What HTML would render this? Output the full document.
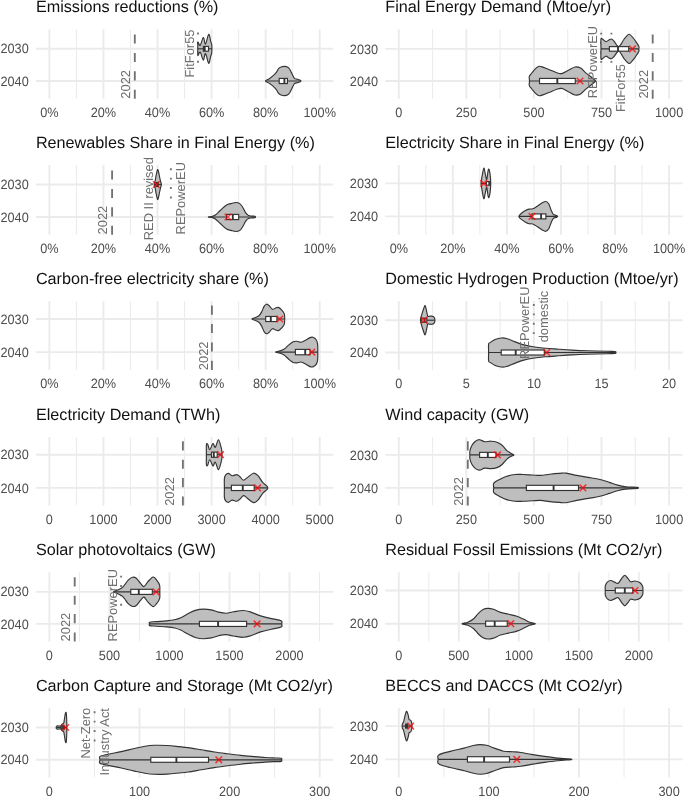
<!DOCTYPE html>
<html><head><meta charset="utf-8"><style>
html,body{margin:0;padding:0;background:#fff;overflow:hidden;}
svg{display:block;text-rendering:geometricPrecision;font-family:"Liberation Sans",sans-serif;will-change:transform;}
</style></head><body>
<svg width="685" height="796" viewBox="0 0 685 796">
<rect width="685" height="796" fill="#fff"/>
<line x1="76.43" y1="29.3" x2="76.43" y2="98.8" stroke="#ebebeb" stroke-width="1"/><line x1="130.49" y1="29.3" x2="130.49" y2="98.8" stroke="#ebebeb" stroke-width="1"/><line x1="184.55" y1="29.3" x2="184.55" y2="98.8" stroke="#ebebeb" stroke-width="1"/><line x1="238.61" y1="29.3" x2="238.61" y2="98.8" stroke="#ebebeb" stroke-width="1"/><line x1="292.67" y1="29.3" x2="292.67" y2="98.8" stroke="#ebebeb" stroke-width="1"/><line x1="49.4" y1="29.3" x2="49.4" y2="98.8" stroke="#ebebeb" stroke-width="1.9"/><line x1="103.46" y1="29.3" x2="103.46" y2="98.8" stroke="#ebebeb" stroke-width="1.9"/><line x1="157.52" y1="29.3" x2="157.52" y2="98.8" stroke="#ebebeb" stroke-width="1.9"/><line x1="211.58" y1="29.3" x2="211.58" y2="98.8" stroke="#ebebeb" stroke-width="1.9"/><line x1="265.64" y1="29.3" x2="265.64" y2="98.8" stroke="#ebebeb" stroke-width="1.9"/><line x1="319.7" y1="29.3" x2="319.7" y2="98.8" stroke="#ebebeb" stroke-width="1.9"/><line x1="35.9" y1="48.8" x2="333.2" y2="48.8" stroke="#ebebeb" stroke-width="1.9"/><line x1="35.9" y1="81" x2="333.2" y2="81" stroke="#ebebeb" stroke-width="1.9"/><text x="35.9" y="12.3" font-size="16.2" fill="#111">Emissions reductions (%)</text><text transform="translate(28.7,53.4) scale(1,1.07)" font-size="12.7" fill="#4d4d4d" text-anchor="end">2030</text><text transform="translate(28.7,85.6) scale(1,1.07)" font-size="12.7" fill="#4d4d4d" text-anchor="end">2040</text><text transform="translate(49.4,117) scale(1,1.07)" font-size="12.7" fill="#4d4d4d" text-anchor="middle">0%</text><text transform="translate(103.46,117) scale(1,1.07)" font-size="12.7" fill="#4d4d4d" text-anchor="middle">20%</text><text transform="translate(157.52,117) scale(1,1.07)" font-size="12.7" fill="#4d4d4d" text-anchor="middle">40%</text><text transform="translate(211.58,117) scale(1,1.07)" font-size="12.7" fill="#4d4d4d" text-anchor="middle">60%</text><text transform="translate(265.64,117) scale(1,1.07)" font-size="12.7" fill="#4d4d4d" text-anchor="middle">80%</text><text transform="translate(319.7,117) scale(1,1.07)" font-size="12.7" fill="#4d4d4d" text-anchor="middle">100%</text><line x1="134.8" y1="98.8" x2="134.8" y2="29.3" stroke="#727272" stroke-width="1.85" stroke-dasharray="9.1 9.3"/><line x1="198" y1="32.6" x2="198" y2="65.3" stroke="#777" stroke-width="1.9" stroke-dasharray="1.9 7.5"/><path d="M197.8,48.8 C197.8,46.67 197.7,43.4 197.8,42.4 C197.9,41.4 197.98,42.3 198.4,42.8 C198.82,43.3 199.48,46.28 200.3,45.4 C201.12,44.52 202.43,37.73 203.3,37.5 C204.17,37.27 204.6,44.53 205.5,44 C206.4,43.47 207.83,34.75 208.7,34.3 C209.57,33.85 210.2,39.6 210.7,41.3 C211.2,43 211.5,43.25 211.7,44.5 C211.9,45.75 211.9,47.37 211.9,48.8 C211.9,50.23 211.9,51.85 211.7,53.1 C211.5,54.35 211.2,54.6 210.7,56.3 C210.2,58 209.57,63.75 208.7,63.3 C207.83,62.85 206.4,54.13 205.5,53.6 C204.6,53.07 204.17,60.33 203.3,60.1 C202.43,59.87 201.12,53.08 200.3,52.2 C199.48,51.32 198.82,54.3 198.4,54.8 C197.98,55.3 197.9,56.2 197.8,55.2 C197.7,54.2 197.8,50.93 197.8,48.8Z" fill="#bebebe" stroke="#333333" stroke-width="1.15" stroke-linejoin="round"/><line x1="197.8" y1="48.8" x2="211.9" y2="48.8" stroke="#333333" stroke-width="1.15"/><rect x="203.4" y="46.4" width="5.1" height="4.8" fill="#fff" stroke="#333333" stroke-width="1.15"/><line x1="204.7" y1="46.4" x2="204.7" y2="51.2" stroke="#333333" stroke-width="1.9"/><path d="M265.4,81 C265.4,80.23 267.92,79.75 269.4,78.7 C270.88,77.65 273.08,75.83 274.3,74.7 C275.52,73.57 275.98,72.92 276.7,71.9 C277.42,70.88 277.88,69.42 278.6,68.6 C279.32,67.78 279.98,67.37 281,67 C282.02,66.63 283.57,66.35 284.7,66.4 C285.83,66.45 286.93,66.78 287.8,67.3 C288.67,67.82 289.2,68.42 289.9,69.5 C290.6,70.58 291.23,72.32 292,73.8 C292.77,75.28 293.57,77.48 294.5,78.4 C295.43,79.32 296.63,79 297.6,79.3 C298.57,79.6 299.75,79.92 300.3,80.2 C300.85,80.48 300.9,80.73 300.9,81 C300.9,81.27 300.85,81.52 300.3,81.8 C299.75,82.08 298.57,82.4 297.6,82.7 C296.63,83 295.43,82.68 294.5,83.6 C293.57,84.52 292.77,86.72 292,88.2 C291.23,89.68 290.6,91.42 289.9,92.5 C289.2,93.58 288.67,94.18 287.8,94.7 C286.93,95.22 285.83,95.55 284.7,95.6 C283.57,95.65 282.02,95.37 281,95 C279.98,94.63 279.32,94.22 278.6,93.4 C277.88,92.58 277.42,91.12 276.7,90.1 C275.98,89.08 275.52,88.43 274.3,87.3 C273.08,86.17 270.88,84.35 269.4,83.3 C267.92,82.25 265.4,81.77 265.4,81Z" fill="#bebebe" stroke="#333333" stroke-width="1.15" stroke-linejoin="round"/><line x1="265.4" y1="81" x2="300.9" y2="81" stroke="#333333" stroke-width="1.15"/><rect x="279.2" y="78.4" width="8.2" height="5.2" fill="#fff" stroke="#333333" stroke-width="1.15"/><line x1="284.4" y1="78.4" x2="284.4" y2="83.6" stroke="#333333" stroke-width="1.9"/><text transform="translate(130.4,98.7) rotate(-90)" font-size="12.9" fill="#6e6e6e">2022</text><text transform="translate(194,77.5) rotate(-90)" font-size="12.9" fill="#6e6e6e">FitFor55</text>
<line x1="432.59" y1="29.3" x2="432.59" y2="98.8" stroke="#ebebeb" stroke-width="1"/><line x1="500.16" y1="29.3" x2="500.16" y2="98.8" stroke="#ebebeb" stroke-width="1"/><line x1="567.74" y1="29.3" x2="567.74" y2="98.8" stroke="#ebebeb" stroke-width="1"/><line x1="635.31" y1="29.3" x2="635.31" y2="98.8" stroke="#ebebeb" stroke-width="1"/><line x1="398.8" y1="29.3" x2="398.8" y2="98.8" stroke="#ebebeb" stroke-width="1.9"/><line x1="466.37" y1="29.3" x2="466.37" y2="98.8" stroke="#ebebeb" stroke-width="1.9"/><line x1="533.95" y1="29.3" x2="533.95" y2="98.8" stroke="#ebebeb" stroke-width="1.9"/><line x1="601.52" y1="29.3" x2="601.52" y2="98.8" stroke="#ebebeb" stroke-width="1.9"/><line x1="669.1" y1="29.3" x2="669.1" y2="98.8" stroke="#ebebeb" stroke-width="1.9"/><line x1="385.3" y1="48.9" x2="682.6" y2="48.9" stroke="#ebebeb" stroke-width="1.9"/><line x1="385.3" y1="81" x2="682.6" y2="81" stroke="#ebebeb" stroke-width="1.9"/><text x="385.3" y="12.3" font-size="16.2" fill="#111">Final Energy Demand (Mtoe/yr)</text><text transform="translate(378.1,53.5) scale(1,1.07)" font-size="12.7" fill="#4d4d4d" text-anchor="end">2030</text><text transform="translate(378.1,85.6) scale(1,1.07)" font-size="12.7" fill="#4d4d4d" text-anchor="end">2040</text><text transform="translate(398.8,117) scale(1,1.07)" font-size="12.7" fill="#4d4d4d" text-anchor="middle">0</text><text transform="translate(466.37,117) scale(1,1.07)" font-size="12.7" fill="#4d4d4d" text-anchor="middle">250</text><text transform="translate(533.95,117) scale(1,1.07)" font-size="12.7" fill="#4d4d4d" text-anchor="middle">500</text><text transform="translate(601.52,117) scale(1,1.07)" font-size="12.7" fill="#4d4d4d" text-anchor="middle">750</text><text transform="translate(669.1,117) scale(1,1.07)" font-size="12.7" fill="#4d4d4d" text-anchor="middle">1000</text><g transform="translate(349.4,0)"><line x1="303.3" y1="98.8" x2="303.3" y2="29.3" stroke="#727272" stroke-width="1.85" stroke-dasharray="9.1 9.3"/><line x1="251.8" y1="32.7" x2="251.8" y2="65.4" stroke="#777" stroke-width="1.9" stroke-dasharray="1.9 7.5"/><line x1="262" y1="32.7" x2="262" y2="65.4" stroke="#777" stroke-width="1.9" stroke-dasharray="1.9 7.5"/><path d="M251.6,48.9 C251.6,45.6 251.27,40.55 251.6,39 C251.93,37.45 252.77,39.17 253.6,39.6 C254.43,40.03 255.6,41.55 256.6,41.6 C257.6,41.65 258.7,40.33 259.6,39.9 C260.5,39.47 261.17,38.8 262,39 C262.83,39.2 263.68,40.05 264.6,41.1 C265.52,42.15 266.65,44.4 267.5,45.3 C268.35,46.2 268.93,46.82 269.7,46.5 C270.47,46.18 271.25,44.65 272.1,43.4 C272.95,42.15 273.57,40.52 274.8,39 C276.03,37.48 278.2,34.68 279.5,34.3 C280.8,33.92 281.57,35.67 282.6,36.7 C283.63,37.73 284.57,38.92 285.7,40.5 C286.83,42.08 288.78,44.8 289.4,46.2 C290.02,47.6 289.4,48 289.4,48.9 C289.4,49.8 290.02,50.2 289.4,51.6 C288.78,53 286.83,55.72 285.7,57.3 C284.57,58.88 283.63,60.07 282.6,61.1 C281.57,62.13 280.8,63.88 279.5,63.5 C278.2,63.12 276.03,60.32 274.8,58.8 C273.57,57.28 272.95,55.65 272.1,54.4 C271.25,53.15 270.47,51.62 269.7,51.3 C268.93,50.98 268.35,51.6 267.5,52.5 C266.65,53.4 265.52,55.65 264.6,56.7 C263.68,57.75 262.83,58.6 262,58.8 C261.17,59 260.5,58.33 259.6,57.9 C258.7,57.47 257.6,56.15 256.6,56.2 C255.6,56.25 254.43,57.77 253.6,58.2 C252.77,58.63 251.93,60.35 251.6,58.8 C251.27,57.25 251.6,52.2 251.6,48.9Z" fill="#bebebe" stroke="#333333" stroke-width="1.15" stroke-linejoin="round"/><line x1="251.6" y1="48.9" x2="289.4" y2="48.9" stroke="#333333" stroke-width="1.15"/><rect x="260" y="46.6" width="19.3" height="4.6" fill="#fff" stroke="#333333" stroke-width="1.15"/><line x1="268.6" y1="46.6" x2="268.6" y2="51.2" stroke="#333333" stroke-width="1.9"/><path d="M279.7,45.6L286.3,52.2M279.7,52.2L286.3,45.6" stroke="#ff0000" stroke-opacity="0.72" stroke-width="1.6" fill="none"/><path d="M180.1,81 C180.1,79.43 179.52,77.63 179.9,76.3 C180.28,74.97 181.43,74.2 182.4,73 C183.37,71.8 184.5,70.22 185.7,69.1 C186.9,67.98 188.22,66.58 189.6,66.3 C190.98,66.02 192.25,66.83 194,67.4 C195.75,67.97 197.97,68.85 200.1,69.7 C202.23,70.55 204.77,71.85 206.8,72.5 C208.83,73.15 210.27,73.97 212.3,73.6 C214.33,73.23 216.78,71.4 219,70.3 C221.22,69.2 223.57,67.37 225.6,67 C227.63,66.63 229.35,67.08 231.2,68.1 C233.05,69.12 234.85,71.53 236.7,73.1 C238.55,74.67 240.82,76.32 242.3,77.5 C243.78,78.68 244.95,79.62 245.6,80.2 C246.25,80.78 246.2,80.73 246.2,81 C246.2,81.27 246.25,81.22 245.6,81.8 C244.95,82.38 243.78,83.32 242.3,84.5 C240.82,85.68 238.55,87.33 236.7,88.9 C234.85,90.47 233.05,92.88 231.2,93.9 C229.35,94.92 227.63,95.37 225.6,95 C223.57,94.63 221.22,92.8 219,91.7 C216.78,90.6 214.33,88.77 212.3,88.4 C210.27,88.03 208.83,88.85 206.8,89.5 C204.77,90.15 202.23,91.45 200.1,92.3 C197.97,93.15 195.75,94.03 194,94.6 C192.25,95.17 190.98,95.98 189.6,95.7 C188.22,95.42 186.9,94.02 185.7,92.9 C184.5,91.78 183.37,90.2 182.4,89 C181.43,87.8 180.28,87.03 179.9,85.7 C179.52,84.37 180.1,82.57 180.1,81Z" fill="#bebebe" stroke="#333333" stroke-width="1.15" stroke-linejoin="round"/><line x1="180.1" y1="81" x2="246.2" y2="81" stroke="#333333" stroke-width="1.15"/><rect x="190.1" y="78.4" width="35.8" height="5.2" fill="#fff" stroke="#333333" stroke-width="1.15"/><line x1="207.9" y1="78.4" x2="207.9" y2="83.6" stroke="#333333" stroke-width="1.9"/><path d="M227.3,77.7L233.9,84.3M227.3,84.3L233.9,77.7" stroke="#ff0000" stroke-opacity="0.72" stroke-width="1.6" fill="none"/><text transform="translate(298.7,98.6) rotate(-90)" font-size="12.9" fill="#6e6e6e">2022</text><text transform="translate(247.4,98.2) rotate(-90)" font-size="12.9" fill="#6e6e6e">REPowerEU</text><text transform="translate(275.4,112) rotate(-90)" font-size="12.9" fill="#6e6e6e">FitFor55</text></g>
<line x1="76.43" y1="164.9" x2="76.43" y2="234.8" stroke="#ebebeb" stroke-width="1"/><line x1="130.49" y1="164.9" x2="130.49" y2="234.8" stroke="#ebebeb" stroke-width="1"/><line x1="184.55" y1="164.9" x2="184.55" y2="234.8" stroke="#ebebeb" stroke-width="1"/><line x1="238.61" y1="164.9" x2="238.61" y2="234.8" stroke="#ebebeb" stroke-width="1"/><line x1="292.67" y1="164.9" x2="292.67" y2="234.8" stroke="#ebebeb" stroke-width="1"/><line x1="49.4" y1="164.9" x2="49.4" y2="234.8" stroke="#ebebeb" stroke-width="1.9"/><line x1="103.46" y1="164.9" x2="103.46" y2="234.8" stroke="#ebebeb" stroke-width="1.9"/><line x1="157.52" y1="164.9" x2="157.52" y2="234.8" stroke="#ebebeb" stroke-width="1.9"/><line x1="211.58" y1="164.9" x2="211.58" y2="234.8" stroke="#ebebeb" stroke-width="1.9"/><line x1="265.64" y1="164.9" x2="265.64" y2="234.8" stroke="#ebebeb" stroke-width="1.9"/><line x1="319.7" y1="164.9" x2="319.7" y2="234.8" stroke="#ebebeb" stroke-width="1.9"/><line x1="35.9" y1="184.5" x2="333.2" y2="184.5" stroke="#ebebeb" stroke-width="1.9"/><line x1="35.9" y1="217" x2="333.2" y2="217" stroke="#ebebeb" stroke-width="1.9"/><text x="35.9" y="147.9" font-size="16.2" fill="#111">Renewables Share in Final Energy (%)</text><text transform="translate(28.7,189.1) scale(1,1.07)" font-size="12.7" fill="#4d4d4d" text-anchor="end">2030</text><text transform="translate(28.7,221.6) scale(1,1.07)" font-size="12.7" fill="#4d4d4d" text-anchor="end">2040</text><text transform="translate(49.4,253) scale(1,1.07)" font-size="12.7" fill="#4d4d4d" text-anchor="middle">0%</text><text transform="translate(103.46,253) scale(1,1.07)" font-size="12.7" fill="#4d4d4d" text-anchor="middle">20%</text><text transform="translate(157.52,253) scale(1,1.07)" font-size="12.7" fill="#4d4d4d" text-anchor="middle">40%</text><text transform="translate(211.58,253) scale(1,1.07)" font-size="12.7" fill="#4d4d4d" text-anchor="middle">60%</text><text transform="translate(265.64,253) scale(1,1.07)" font-size="12.7" fill="#4d4d4d" text-anchor="middle">80%</text><text transform="translate(319.7,253) scale(1,1.07)" font-size="12.7" fill="#4d4d4d" text-anchor="middle">100%</text><line x1="112.1" y1="234.8" x2="112.1" y2="164.9" stroke="#727272" stroke-width="1.85" stroke-dasharray="9.1 9.3"/><line x1="170.9" y1="168.3" x2="170.9" y2="201" stroke="#777" stroke-width="1.9" stroke-dasharray="1.9 7.5"/><path d="M154.2,184.5 C154.2,183.17 154.85,182.17 155.2,180.5 C155.55,178.83 155.9,176.33 156.3,174.5 C156.7,172.67 157.2,169.83 157.6,169.5 C158,169.17 158.35,171.17 158.7,172.5 C159.05,173.83 159.38,176 159.7,177.5 C160.02,179 160.32,180.33 160.6,181.5 C160.88,182.67 161.4,183.5 161.4,184.5 C161.4,185.5 160.88,186.33 160.6,187.5 C160.32,188.67 160.02,190 159.7,191.5 C159.38,193 159.05,195.17 158.7,196.5 C158.35,197.83 158,199.83 157.6,199.5 C157.2,199.17 156.7,196.33 156.3,194.5 C155.9,192.67 155.55,190.17 155.2,188.5 C154.85,186.83 154.2,185.83 154.2,184.5Z" fill="#bebebe" stroke="#333333" stroke-width="1.15" stroke-linejoin="round"/><line x1="154.2" y1="184.5" x2="161.4" y2="184.5" stroke="#333333" stroke-width="1.15"/><rect x="155.9" y="182.5" width="2.4" height="4" fill="#fff" stroke="#333333" stroke-width="1.15"/><line x1="157.2" y1="182.5" x2="157.2" y2="186.5" stroke="#333333" stroke-width="1.9"/><path d="M153,181.2L159.6,187.8M153,187.8L159.6,181.2" stroke="#ff0000" stroke-opacity="0.72" stroke-width="1.6" fill="none"/><path d="M208.3,217 C208.3,216.83 210.63,216.83 211.8,216.5 C212.97,216.17 213.85,216.05 215.3,215 C216.75,213.95 218.62,211.88 220.5,210.2 C222.38,208.52 224.85,206 226.6,204.9 C228.35,203.8 229.47,204 231,203.6 C232.53,203.2 234.33,202.5 235.8,202.5 C237.27,202.5 238.63,202.77 239.8,203.6 C240.97,204.43 241.78,205.9 242.8,207.5 C243.82,209.1 244.95,211.85 245.9,213.2 C246.85,214.55 247.48,215.12 248.5,215.6 C249.52,216.08 250.92,215.98 252,216.1 C253.08,216.22 254.42,216.15 255,216.3 C255.58,216.45 255.5,216.77 255.5,217 C255.5,217.23 255.58,217.55 255,217.7 C254.42,217.85 253.08,217.78 252,217.9 C250.92,218.02 249.52,217.92 248.5,218.4 C247.48,218.88 246.85,219.45 245.9,220.8 C244.95,222.15 243.82,224.9 242.8,226.5 C241.78,228.1 240.97,229.57 239.8,230.4 C238.63,231.23 237.27,231.5 235.8,231.5 C234.33,231.5 232.53,230.8 231,230.4 C229.47,230 228.35,230.2 226.6,229.1 C224.85,228 222.38,225.48 220.5,223.8 C218.62,222.12 216.75,220.05 215.3,219 C213.85,217.95 212.97,217.83 211.8,217.5 C210.63,217.17 208.3,217.17 208.3,217Z" fill="#bebebe" stroke="#333333" stroke-width="1.15" stroke-linejoin="round"/><line x1="208.3" y1="217" x2="255.5" y2="217" stroke="#333333" stroke-width="1.15"/><rect x="226.6" y="214.4" width="12.1" height="5.2" fill="#fff" stroke="#333333" stroke-width="1.15"/><line x1="232.8" y1="214.4" x2="232.8" y2="219.6" stroke="#333333" stroke-width="1.9"/><path d="M224.7,213.7L231.3,220.3M224.7,220.3L231.3,213.7" stroke="#ff0000" stroke-opacity="0.72" stroke-width="1.6" fill="none"/><text transform="translate(107.2,234.4) rotate(-90)" font-size="12.9" fill="#6e6e6e">2022</text><text transform="translate(153.2,240.2) rotate(-90)" font-size="12.9" fill="#6e6e6e">RED II revised</text><text transform="translate(184.6,234.4) rotate(-90)" font-size="12.9" fill="#6e6e6e">REPowerEU</text>
<line x1="425.83" y1="164.9" x2="425.83" y2="234.8" stroke="#ebebeb" stroke-width="1"/><line x1="479.89" y1="164.9" x2="479.89" y2="234.8" stroke="#ebebeb" stroke-width="1"/><line x1="533.95" y1="164.9" x2="533.95" y2="234.8" stroke="#ebebeb" stroke-width="1"/><line x1="588.01" y1="164.9" x2="588.01" y2="234.8" stroke="#ebebeb" stroke-width="1"/><line x1="642.07" y1="164.9" x2="642.07" y2="234.8" stroke="#ebebeb" stroke-width="1"/><line x1="398.8" y1="164.9" x2="398.8" y2="234.8" stroke="#ebebeb" stroke-width="1.9"/><line x1="452.86" y1="164.9" x2="452.86" y2="234.8" stroke="#ebebeb" stroke-width="1.9"/><line x1="506.92" y1="164.9" x2="506.92" y2="234.8" stroke="#ebebeb" stroke-width="1.9"/><line x1="560.98" y1="164.9" x2="560.98" y2="234.8" stroke="#ebebeb" stroke-width="1.9"/><line x1="615.04" y1="164.9" x2="615.04" y2="234.8" stroke="#ebebeb" stroke-width="1.9"/><line x1="669.1" y1="164.9" x2="669.1" y2="234.8" stroke="#ebebeb" stroke-width="1.9"/><line x1="385.3" y1="183.4" x2="682.6" y2="183.4" stroke="#ebebeb" stroke-width="1.9"/><line x1="385.3" y1="216.4" x2="682.6" y2="216.4" stroke="#ebebeb" stroke-width="1.9"/><text x="385.3" y="147.9" font-size="16.2" fill="#111">Electricity Share in Final Energy (%)</text><text transform="translate(378.1,188) scale(1,1.07)" font-size="12.7" fill="#4d4d4d" text-anchor="end">2030</text><text transform="translate(378.1,221) scale(1,1.07)" font-size="12.7" fill="#4d4d4d" text-anchor="end">2040</text><text transform="translate(398.8,253) scale(1,1.07)" font-size="12.7" fill="#4d4d4d" text-anchor="middle">0%</text><text transform="translate(452.86,253) scale(1,1.07)" font-size="12.7" fill="#4d4d4d" text-anchor="middle">20%</text><text transform="translate(506.92,253) scale(1,1.07)" font-size="12.7" fill="#4d4d4d" text-anchor="middle">40%</text><text transform="translate(560.98,253) scale(1,1.07)" font-size="12.7" fill="#4d4d4d" text-anchor="middle">60%</text><text transform="translate(615.04,253) scale(1,1.07)" font-size="12.7" fill="#4d4d4d" text-anchor="middle">80%</text><text transform="translate(669.1,253) scale(1,1.07)" font-size="12.7" fill="#4d4d4d" text-anchor="middle">100%</text><g transform="translate(349.4,0)"><path d="M131.6,183.4 C131.6,182.4 131.77,181.9 132,180.4 C132.23,178.9 132.6,176.45 133,174.4 C133.4,172.35 133.97,168.43 134.4,168.1 C134.83,167.77 135.18,170.6 135.6,172.4 C136.02,174.2 136.57,177.9 136.9,178.9 C137.23,179.9 137.32,179.65 137.6,178.4 C137.88,177.15 138.3,172.95 138.6,171.4 C138.9,169.85 139.1,168.93 139.4,169.1 C139.7,169.27 140.12,170.85 140.4,172.4 C140.68,173.95 140.95,176.57 141.1,178.4 C141.25,180.23 141.3,181.73 141.3,183.4 C141.3,185.07 141.25,186.57 141.1,188.4 C140.95,190.23 140.68,192.85 140.4,194.4 C140.12,195.95 139.7,197.53 139.4,197.7 C139.1,197.87 138.9,196.95 138.6,195.4 C138.3,193.85 137.88,189.65 137.6,188.4 C137.32,187.15 137.23,186.9 136.9,187.9 C136.57,188.9 136.02,192.6 135.6,194.4 C135.18,196.2 134.83,199.03 134.4,198.7 C133.97,198.37 133.4,194.45 133,192.4 C132.6,190.35 132.23,187.9 132,186.4 C131.77,184.9 131.6,184.4 131.6,183.4Z" fill="#bebebe" stroke="#333333" stroke-width="1.15" stroke-linejoin="round"/><line x1="131.6" y1="183.4" x2="141.3" y2="183.4" stroke="#333333" stroke-width="1.15"/><rect x="137" y="181.6" width="3.8" height="3.6" fill="#fff" stroke="#333333" stroke-width="1.15"/><line x1="139.9" y1="181.6" x2="139.9" y2="185.2" stroke="#333333" stroke-width="1.9"/><path d="M131.1,180.1L137.7,186.7M131.1,186.7L137.7,180.1" stroke="#ff0000" stroke-opacity="0.72" stroke-width="1.6" fill="none"/><path d="M169.5,216.4 C169.5,215.67 169.9,215.17 171,214.2 C172.1,213.23 174.65,211.45 176.1,210.6 C177.55,209.75 178.48,209.4 179.7,209.1 C180.92,208.8 182.05,209.28 183.4,208.8 C184.75,208.32 186.35,207.12 187.8,206.2 C189.25,205.28 190.65,204.08 192.1,203.3 C193.55,202.52 195.28,201.38 196.5,201.5 C197.72,201.62 198.55,202.62 199.4,204 C200.25,205.38 200.87,208.1 201.6,209.8 C202.33,211.5 202.95,213.27 203.8,214.2 C204.65,215.13 205.97,215.03 206.7,215.4 C207.43,215.77 208.2,216.07 208.2,216.4 C208.2,216.73 207.43,217.03 206.7,217.4 C205.97,217.77 204.65,217.67 203.8,218.6 C202.95,219.53 202.33,221.3 201.6,223 C200.87,224.7 200.25,227.42 199.4,228.8 C198.55,230.18 197.72,231.18 196.5,231.3 C195.28,231.42 193.55,230.28 192.1,229.5 C190.65,228.72 189.25,227.52 187.8,226.6 C186.35,225.68 184.75,224.48 183.4,224 C182.05,223.52 180.92,224 179.7,223.7 C178.48,223.4 177.55,223.05 176.1,222.2 C174.65,221.35 172.1,219.57 171,218.6 C169.9,217.63 169.5,217.13 169.5,216.4Z" fill="#bebebe" stroke="#333333" stroke-width="1.15" stroke-linejoin="round"/><line x1="169.5" y1="216.4" x2="208.2" y2="216.4" stroke="#333333" stroke-width="1.15"/><rect x="182.6" y="213.9" width="13.9" height="5" fill="#fff" stroke="#333333" stroke-width="1.15"/><line x1="191.7" y1="213.9" x2="191.7" y2="218.9" stroke="#333333" stroke-width="1.9"/><path d="M179.3,213.1L185.9,219.7M179.3,219.7L185.9,213.1" stroke="#ff0000" stroke-opacity="0.72" stroke-width="1.6" fill="none"/></g>
<line x1="76.43" y1="301.1" x2="76.43" y2="369.9" stroke="#ebebeb" stroke-width="1"/><line x1="130.49" y1="301.1" x2="130.49" y2="369.9" stroke="#ebebeb" stroke-width="1"/><line x1="184.55" y1="301.1" x2="184.55" y2="369.9" stroke="#ebebeb" stroke-width="1"/><line x1="238.61" y1="301.1" x2="238.61" y2="369.9" stroke="#ebebeb" stroke-width="1"/><line x1="292.67" y1="301.1" x2="292.67" y2="369.9" stroke="#ebebeb" stroke-width="1"/><line x1="49.4" y1="301.1" x2="49.4" y2="369.9" stroke="#ebebeb" stroke-width="1.9"/><line x1="103.46" y1="301.1" x2="103.46" y2="369.9" stroke="#ebebeb" stroke-width="1.9"/><line x1="157.52" y1="301.1" x2="157.52" y2="369.9" stroke="#ebebeb" stroke-width="1.9"/><line x1="211.58" y1="301.1" x2="211.58" y2="369.9" stroke="#ebebeb" stroke-width="1.9"/><line x1="265.64" y1="301.1" x2="265.64" y2="369.9" stroke="#ebebeb" stroke-width="1.9"/><line x1="319.7" y1="301.1" x2="319.7" y2="369.9" stroke="#ebebeb" stroke-width="1.9"/><line x1="35.9" y1="319" x2="333.2" y2="319" stroke="#ebebeb" stroke-width="1.9"/><line x1="35.9" y1="352.1" x2="333.2" y2="352.1" stroke="#ebebeb" stroke-width="1.9"/><text x="35.9" y="284.1" font-size="16.2" fill="#111">Carbon-free electricity share (%)</text><text transform="translate(28.7,323.6) scale(1,1.07)" font-size="12.7" fill="#4d4d4d" text-anchor="end">2030</text><text transform="translate(28.7,356.7) scale(1,1.07)" font-size="12.7" fill="#4d4d4d" text-anchor="end">2040</text><text transform="translate(49.4,388.1) scale(1,1.07)" font-size="12.7" fill="#4d4d4d" text-anchor="middle">0%</text><text transform="translate(103.46,388.1) scale(1,1.07)" font-size="12.7" fill="#4d4d4d" text-anchor="middle">20%</text><text transform="translate(157.52,388.1) scale(1,1.07)" font-size="12.7" fill="#4d4d4d" text-anchor="middle">40%</text><text transform="translate(211.58,388.1) scale(1,1.07)" font-size="12.7" fill="#4d4d4d" text-anchor="middle">60%</text><text transform="translate(265.64,388.1) scale(1,1.07)" font-size="12.7" fill="#4d4d4d" text-anchor="middle">80%</text><text transform="translate(319.7,388.1) scale(1,1.07)" font-size="12.7" fill="#4d4d4d" text-anchor="middle">100%</text><line x1="211.9" y1="369.9" x2="211.9" y2="301.1" stroke="#727272" stroke-width="1.85" stroke-dasharray="9.1 9.3"/><path d="M251.9,319 C251.9,318.47 254.48,317.98 255.7,317.4 C256.92,316.82 258.18,316.47 259.2,315.5 C260.22,314.53 260.98,313.12 261.8,311.6 C262.62,310.08 263.3,307.63 264.1,306.4 C264.9,305.17 265.75,304.3 266.6,304.2 C267.45,304.1 268.23,304.95 269.2,305.8 C270.17,306.65 271.33,308.93 272.4,309.3 C273.47,309.67 274.58,308.32 275.6,308 C276.62,307.68 277.43,307.02 278.5,307.4 C279.57,307.78 281.03,309.22 282,310.3 C282.97,311.38 283.85,312.45 284.3,313.9 C284.75,315.35 284.7,317.3 284.7,319 C284.7,320.7 284.75,322.65 284.3,324.1 C283.85,325.55 282.97,326.62 282,327.7 C281.03,328.78 279.57,330.22 278.5,330.6 C277.43,330.98 276.62,330.32 275.6,330 C274.58,329.68 273.47,328.33 272.4,328.7 C271.33,329.07 270.17,331.35 269.2,332.2 C268.23,333.05 267.45,333.9 266.6,333.8 C265.75,333.7 264.9,332.83 264.1,331.6 C263.3,330.37 262.62,327.92 261.8,326.4 C260.98,324.88 260.22,323.47 259.2,322.5 C258.18,321.53 256.92,321.18 255.7,320.6 C254.48,320.02 251.9,319.53 251.9,319Z" fill="#bebebe" stroke="#333333" stroke-width="1.15" stroke-linejoin="round"/><line x1="251.9" y1="319" x2="284.7" y2="319" stroke="#333333" stroke-width="1.15"/><rect x="265.7" y="316.45" width="11.2" height="5.1" fill="#fff" stroke="#333333" stroke-width="1.15"/><line x1="270.8" y1="316.45" x2="270.8" y2="321.55" stroke="#333333" stroke-width="1.9"/><path d="M276.5,315.7L283.1,322.3M276.5,322.3L283.1,315.7" stroke="#ff0000" stroke-opacity="0.72" stroke-width="1.6" fill="none"/><path d="M275.6,352.1 C275.6,351.7 278.53,351.42 280,350.9 C281.47,350.38 282.93,350 284.4,349 C285.87,348 287.33,346.12 288.8,344.9 C290.27,343.68 291.87,342.3 293.2,341.7 C294.53,341.1 295.47,341.22 296.8,341.3 C298.13,341.38 299.73,342.38 301.2,342.2 C302.67,342.02 304.13,340.97 305.6,340.2 C307.07,339.43 308.78,338.08 310,337.6 C311.22,337.12 311.87,336.93 312.9,337.3 C313.93,337.67 315.42,338.65 316.2,339.8 C316.98,340.95 317.33,342.15 317.6,344.2 C317.87,346.25 317.8,349.47 317.8,352.1 C317.8,354.73 317.87,357.95 317.6,360 C317.33,362.05 316.98,363.25 316.2,364.4 C315.42,365.55 313.93,366.53 312.9,366.9 C311.87,367.27 311.22,367.08 310,366.6 C308.78,366.12 307.07,364.77 305.6,364 C304.13,363.23 302.67,362.18 301.2,362 C299.73,361.82 298.13,362.82 296.8,362.9 C295.47,362.98 294.53,363.1 293.2,362.5 C291.87,361.9 290.27,360.52 288.8,359.3 C287.33,358.08 285.87,356.2 284.4,355.2 C282.93,354.2 281.47,353.82 280,353.3 C278.53,352.78 275.6,352.5 275.6,352.1Z" fill="#bebebe" stroke="#333333" stroke-width="1.15" stroke-linejoin="round"/><line x1="275.6" y1="352.1" x2="317.8" y2="352.1" stroke="#333333" stroke-width="1.15"/><rect x="295.4" y="349.4" width="14.6" height="5.4" fill="#fff" stroke="#333333" stroke-width="1.15"/><line x1="305.2" y1="349.4" x2="305.2" y2="354.8" stroke="#333333" stroke-width="1.9"/><path d="M308.5,348.8L315.1,355.4M308.5,355.4L315.1,348.8" stroke="#ff0000" stroke-opacity="0.72" stroke-width="1.6" fill="none"/><text transform="translate(207.8,370.2) rotate(-90)" font-size="12.9" fill="#6e6e6e">2022</text>
<line x1="432.59" y1="301.1" x2="432.59" y2="369.9" stroke="#ebebeb" stroke-width="1"/><line x1="500.16" y1="301.1" x2="500.16" y2="369.9" stroke="#ebebeb" stroke-width="1"/><line x1="567.74" y1="301.1" x2="567.74" y2="369.9" stroke="#ebebeb" stroke-width="1"/><line x1="635.31" y1="301.1" x2="635.31" y2="369.9" stroke="#ebebeb" stroke-width="1"/><line x1="398.8" y1="301.1" x2="398.8" y2="369.9" stroke="#ebebeb" stroke-width="1.9"/><line x1="466.37" y1="301.1" x2="466.37" y2="369.9" stroke="#ebebeb" stroke-width="1.9"/><line x1="533.95" y1="301.1" x2="533.95" y2="369.9" stroke="#ebebeb" stroke-width="1.9"/><line x1="601.52" y1="301.1" x2="601.52" y2="369.9" stroke="#ebebeb" stroke-width="1.9"/><line x1="669.1" y1="301.1" x2="669.1" y2="369.9" stroke="#ebebeb" stroke-width="1.9"/><line x1="385.3" y1="320.2" x2="682.6" y2="320.2" stroke="#ebebeb" stroke-width="1.9"/><line x1="385.3" y1="352.5" x2="682.6" y2="352.5" stroke="#ebebeb" stroke-width="1.9"/><text x="385.3" y="284.1" font-size="16.2" fill="#111">Domestic Hydrogen Production (Mtoe/yr)</text><text transform="translate(378.1,324.8) scale(1,1.07)" font-size="12.7" fill="#4d4d4d" text-anchor="end">2030</text><text transform="translate(378.1,357.1) scale(1,1.07)" font-size="12.7" fill="#4d4d4d" text-anchor="end">2040</text><text transform="translate(398.8,388.1) scale(1,1.07)" font-size="12.7" fill="#4d4d4d" text-anchor="middle">0</text><text transform="translate(466.37,388.1) scale(1,1.07)" font-size="12.7" fill="#4d4d4d" text-anchor="middle">5</text><text transform="translate(533.95,388.1) scale(1,1.07)" font-size="12.7" fill="#4d4d4d" text-anchor="middle">10</text><text transform="translate(601.52,388.1) scale(1,1.07)" font-size="12.7" fill="#4d4d4d" text-anchor="middle">15</text><text transform="translate(669.1,388.1) scale(1,1.07)" font-size="12.7" fill="#4d4d4d" text-anchor="middle">20</text><g transform="translate(349.4,0)"><line x1="184.4" y1="304" x2="184.4" y2="336.7" stroke="#777" stroke-width="1.9" stroke-dasharray="1.9 7.5"/><path d="M71.1,320.2 C71.1,319.2 71.27,318.53 71.6,317.2 C71.93,315.87 72.6,313.78 73.1,312.2 C73.6,310.62 74.17,308.8 74.6,307.7 C75.03,306.6 75.33,305.35 75.7,305.6 C76.07,305.85 76.45,307.77 76.8,309.2 C77.15,310.63 77.53,313 77.8,314.2 C78.07,315.4 78.02,316.07 78.4,316.4 C78.78,316.73 79.48,316.25 80.1,316.2 C80.72,316.15 81.43,316.02 82.1,316.1 C82.77,316.18 83.58,316.35 84.1,316.7 C84.62,317.05 84.97,317.62 85.2,318.2 C85.43,318.78 85.5,319.53 85.5,320.2 C85.5,320.87 85.43,321.62 85.2,322.2 C84.97,322.78 84.62,323.35 84.1,323.7 C83.58,324.05 82.77,324.22 82.1,324.3 C81.43,324.38 80.72,324.25 80.1,324.2 C79.48,324.15 78.78,323.67 78.4,324 C78.02,324.33 78.07,325 77.8,326.2 C77.53,327.4 77.15,329.77 76.8,331.2 C76.45,332.63 76.07,334.55 75.7,334.8 C75.33,335.05 75.03,333.8 74.6,332.7 C74.17,331.6 73.6,329.78 73.1,328.2 C72.6,326.62 71.93,324.53 71.6,323.2 C71.27,321.87 71.1,321.2 71.1,320.2Z" fill="#bebebe" stroke="#333333" stroke-width="1.15" stroke-linejoin="round"/><line x1="71.1" y1="320.2" x2="85.5" y2="320.2" stroke="#333333" stroke-width="1.15"/><rect x="72.4" y="318.2" width="5" height="4" fill="#fff" stroke="#333333" stroke-width="1.15"/><line x1="75.2" y1="318.2" x2="75.2" y2="322.2" stroke="#333333" stroke-width="1.9"/><path d="M71.3,316.9L77.9,323.5M71.3,323.5L77.9,316.9" stroke="#ff0000" stroke-opacity="0.72" stroke-width="1.6" fill="none"/><path d="M139.2,352.5 C139.2,349.7 138.95,345.75 139.2,344.1 C139.45,342.45 139.6,343.37 140.7,342.6 C141.8,341.83 143.92,340.27 145.8,339.5 C147.68,338.73 150.12,338.17 152,338 C153.88,337.83 154.88,337.9 157.1,338.5 C159.32,339.1 162.58,340.58 165.3,341.6 C168.02,342.62 170.35,343.75 173.4,344.6 C176.45,345.45 179.85,346.1 183.6,346.7 C187.35,347.3 191.63,347.78 195.9,348.2 C200.17,348.62 204.75,348.88 209.2,349.2 C213.65,349.52 217.83,349.83 222.6,350.1 C227.37,350.37 231.87,350.6 237.8,350.8 C243.73,351 253.57,351.18 258.2,351.3 C262.83,351.42 264.23,351.3 265.6,351.5 C266.97,351.7 266.4,352.17 266.4,352.5 C266.4,352.83 266.97,353.3 265.6,353.5 C264.23,353.7 262.83,353.58 258.2,353.7 C253.57,353.82 243.73,354 237.8,354.2 C231.87,354.4 227.37,354.63 222.6,354.9 C217.83,355.17 213.65,355.48 209.2,355.8 C204.75,356.12 200.17,356.38 195.9,356.8 C191.63,357.22 187.35,357.7 183.6,358.3 C179.85,358.9 176.45,359.55 173.4,360.4 C170.35,361.25 168.02,362.38 165.3,363.4 C162.58,364.42 159.32,365.9 157.1,366.5 C154.88,367.1 153.88,367.17 152,367 C150.12,366.83 147.68,366.27 145.8,365.5 C143.92,364.73 141.8,363.17 140.7,362.4 C139.6,361.63 139.45,362.55 139.2,360.9 C138.95,359.25 139.2,355.3 139.2,352.5Z" fill="#bebebe" stroke="#333333" stroke-width="1.15" stroke-linejoin="round"/><line x1="139.2" y1="352.5" x2="266.4" y2="352.5" stroke="#333333" stroke-width="1.15"/><rect x="151.8" y="350" width="43.1" height="5" fill="#fff" stroke="#333333" stroke-width="1.15"/><line x1="166.3" y1="350" x2="166.3" y2="355" stroke="#333333" stroke-width="1.9"/><path d="M194.1,349.2L200.7,355.8M194.1,355.8L200.7,349.2" stroke="#ff0000" stroke-opacity="0.72" stroke-width="1.6" fill="none"/><text transform="translate(179.5,358.9) rotate(-90)" font-size="12.9" fill="#6e6e6e">REPowerEU</text><text transform="translate(198.7,342.3) rotate(-90)" font-size="12.9" fill="#6e6e6e">domestic</text></g>
<line x1="76.43" y1="437" x2="76.43" y2="505.6" stroke="#ebebeb" stroke-width="1"/><line x1="130.49" y1="437" x2="130.49" y2="505.6" stroke="#ebebeb" stroke-width="1"/><line x1="184.55" y1="437" x2="184.55" y2="505.6" stroke="#ebebeb" stroke-width="1"/><line x1="238.61" y1="437" x2="238.61" y2="505.6" stroke="#ebebeb" stroke-width="1"/><line x1="292.67" y1="437" x2="292.67" y2="505.6" stroke="#ebebeb" stroke-width="1"/><line x1="49.4" y1="437" x2="49.4" y2="505.6" stroke="#ebebeb" stroke-width="1.9"/><line x1="103.46" y1="437" x2="103.46" y2="505.6" stroke="#ebebeb" stroke-width="1.9"/><line x1="157.52" y1="437" x2="157.52" y2="505.6" stroke="#ebebeb" stroke-width="1.9"/><line x1="211.58" y1="437" x2="211.58" y2="505.6" stroke="#ebebeb" stroke-width="1.9"/><line x1="265.64" y1="437" x2="265.64" y2="505.6" stroke="#ebebeb" stroke-width="1.9"/><line x1="319.7" y1="437" x2="319.7" y2="505.6" stroke="#ebebeb" stroke-width="1.9"/><line x1="35.9" y1="454.7" x2="333.2" y2="454.7" stroke="#ebebeb" stroke-width="1.9"/><line x1="35.9" y1="487.9" x2="333.2" y2="487.9" stroke="#ebebeb" stroke-width="1.9"/><text x="35.9" y="420" font-size="16.2" fill="#111">Electricity Demand (TWh)</text><text transform="translate(28.7,459.3) scale(1,1.07)" font-size="12.7" fill="#4d4d4d" text-anchor="end">2030</text><text transform="translate(28.7,492.5) scale(1,1.07)" font-size="12.7" fill="#4d4d4d" text-anchor="end">2040</text><text transform="translate(49.4,523.8) scale(1,1.07)" font-size="12.7" fill="#4d4d4d" text-anchor="middle">0</text><text transform="translate(103.46,523.8) scale(1,1.07)" font-size="12.7" fill="#4d4d4d" text-anchor="middle">1000</text><text transform="translate(157.52,523.8) scale(1,1.07)" font-size="12.7" fill="#4d4d4d" text-anchor="middle">2000</text><text transform="translate(211.58,523.8) scale(1,1.07)" font-size="12.7" fill="#4d4d4d" text-anchor="middle">3000</text><text transform="translate(265.64,523.8) scale(1,1.07)" font-size="12.7" fill="#4d4d4d" text-anchor="middle">4000</text><text transform="translate(319.7,523.8) scale(1,1.07)" font-size="12.7" fill="#4d4d4d" text-anchor="middle">5000</text><line x1="182.9" y1="505.6" x2="182.9" y2="437" stroke="#727272" stroke-width="1.85" stroke-dasharray="9.1 9.3"/><path d="M206.4,454.7 C206.4,451.43 206.2,446.68 206.4,444.9 C206.6,443.12 207.03,443.2 207.6,444 C208.17,444.8 208.92,449.78 209.8,449.7 C210.68,449.62 211.98,443.9 212.9,443.5 C213.82,443.1 214.38,447.93 215.3,447.3 C216.22,446.67 217.45,439.78 218.4,439.7 C219.35,439.62 220.42,444.9 221,446.8 C221.58,448.7 221.73,449.78 221.9,451.1 C222.07,452.42 222,453.5 222,454.7 C222,455.9 222.07,456.98 221.9,458.3 C221.73,459.62 221.58,460.7 221,462.6 C220.42,464.5 219.35,469.78 218.4,469.7 C217.45,469.62 216.22,462.73 215.3,462.1 C214.38,461.47 213.82,466.3 212.9,465.9 C211.98,465.5 210.68,459.78 209.8,459.7 C208.92,459.62 208.17,464.6 207.6,465.4 C207.03,466.2 206.6,466.28 206.4,464.5 C206.2,462.72 206.4,457.97 206.4,454.7Z" fill="#bebebe" stroke="#333333" stroke-width="1.15" stroke-linejoin="round"/><line x1="206.4" y1="454.7" x2="222" y2="454.7" stroke="#333333" stroke-width="1.15"/><rect x="211.5" y="452.1" width="5.7" height="5.2" fill="#fff" stroke="#333333" stroke-width="1.15"/><line x1="213.8" y1="452.1" x2="213.8" y2="457.3" stroke="#333333" stroke-width="1.9"/><path d="M217.2,451.4L223.8,458M217.2,458L223.8,451.4" stroke="#ff0000" stroke-opacity="0.72" stroke-width="1.6" fill="none"/><path d="M224.4,487.9 C224.4,484.73 224.18,480.57 224.4,478.4 C224.62,476.23 225.03,475.73 225.7,474.9 C226.37,474.07 227.33,473.27 228.4,473.4 C229.47,473.53 230.72,475.5 232.1,475.7 C233.48,475.9 235.43,474.47 236.7,474.6 C237.97,474.73 238.57,475.57 239.7,476.5 C240.83,477.43 242.23,480.02 243.5,480.2 C244.77,480.38 245.65,478.77 247.3,477.6 C248.95,476.43 251.62,473.52 253.4,473.2 C255.18,472.88 256.48,474.2 258,475.7 C259.52,477.2 260.98,480.42 262.5,482.2 C264.02,483.98 266.23,485.45 267.1,486.4 C267.97,487.35 267.7,487.4 267.7,487.9 C267.7,488.4 267.97,488.45 267.1,489.4 C266.23,490.35 264.02,491.82 262.5,493.6 C260.98,495.38 259.52,498.6 258,500.1 C256.48,501.6 255.18,502.92 253.4,502.6 C251.62,502.28 248.95,499.37 247.3,498.2 C245.65,497.03 244.77,495.42 243.5,495.6 C242.23,495.78 240.83,498.37 239.7,499.3 C238.57,500.23 237.97,501.07 236.7,501.2 C235.43,501.33 233.48,499.9 232.1,500.1 C230.72,500.3 229.47,502.27 228.4,502.4 C227.33,502.53 226.37,501.73 225.7,500.9 C225.03,500.07 224.62,499.57 224.4,497.4 C224.18,495.23 224.4,491.07 224.4,487.9Z" fill="#bebebe" stroke="#333333" stroke-width="1.15" stroke-linejoin="round"/><line x1="224.4" y1="487.9" x2="267.7" y2="487.9" stroke="#333333" stroke-width="1.15"/><rect x="231.4" y="485.25" width="22.8" height="5.3" fill="#fff" stroke="#333333" stroke-width="1.15"/><line x1="242.8" y1="485.25" x2="242.8" y2="490.55" stroke="#333333" stroke-width="1.9"/><path d="M254.3,484.6L260.9,491.2M254.3,491.2L260.9,484.6" stroke="#ff0000" stroke-opacity="0.72" stroke-width="1.6" fill="none"/><text transform="translate(174.1,505.8) rotate(-90)" font-size="12.9" fill="#6e6e6e">2022</text>
<line x1="432.59" y1="437" x2="432.59" y2="505.6" stroke="#ebebeb" stroke-width="1"/><line x1="500.16" y1="437" x2="500.16" y2="505.6" stroke="#ebebeb" stroke-width="1"/><line x1="567.74" y1="437" x2="567.74" y2="505.6" stroke="#ebebeb" stroke-width="1"/><line x1="635.31" y1="437" x2="635.31" y2="505.6" stroke="#ebebeb" stroke-width="1"/><line x1="398.8" y1="437" x2="398.8" y2="505.6" stroke="#ebebeb" stroke-width="1.9"/><line x1="466.37" y1="437" x2="466.37" y2="505.6" stroke="#ebebeb" stroke-width="1.9"/><line x1="533.95" y1="437" x2="533.95" y2="505.6" stroke="#ebebeb" stroke-width="1.9"/><line x1="601.52" y1="437" x2="601.52" y2="505.6" stroke="#ebebeb" stroke-width="1.9"/><line x1="669.1" y1="437" x2="669.1" y2="505.6" stroke="#ebebeb" stroke-width="1.9"/><line x1="385.3" y1="454.9" x2="682.6" y2="454.9" stroke="#ebebeb" stroke-width="1.9"/><line x1="385.3" y1="487.9" x2="682.6" y2="487.9" stroke="#ebebeb" stroke-width="1.9"/><text x="385.3" y="420" font-size="16.2" fill="#111">Wind capacity (GW)</text><text transform="translate(378.1,459.5) scale(1,1.07)" font-size="12.7" fill="#4d4d4d" text-anchor="end">2030</text><text transform="translate(378.1,492.5) scale(1,1.07)" font-size="12.7" fill="#4d4d4d" text-anchor="end">2040</text><text transform="translate(398.8,523.8) scale(1,1.07)" font-size="12.7" fill="#4d4d4d" text-anchor="middle">0</text><text transform="translate(466.37,523.8) scale(1,1.07)" font-size="12.7" fill="#4d4d4d" text-anchor="middle">250</text><text transform="translate(533.95,523.8) scale(1,1.07)" font-size="12.7" fill="#4d4d4d" text-anchor="middle">500</text><text transform="translate(601.52,523.8) scale(1,1.07)" font-size="12.7" fill="#4d4d4d" text-anchor="middle">750</text><text transform="translate(669.1,523.8) scale(1,1.07)" font-size="12.7" fill="#4d4d4d" text-anchor="middle">1000</text><g transform="translate(349.4,0)"><line x1="118.4" y1="505.6" x2="118.4" y2="437" stroke="#727272" stroke-width="1.85" stroke-dasharray="9.1 9.3"/><path d="M120.5,454.9 C120.5,453.6 120.15,452.6 120.5,451 C120.85,449.4 121.67,446.93 122.6,445.3 C123.53,443.67 124.83,442.13 126.1,441.2 C127.37,440.27 128.67,439.62 130.2,439.7 C131.73,439.78 133.42,441.45 135.3,441.7 C137.18,441.95 139.45,441.12 141.5,441.2 C143.55,441.28 145.73,441.52 147.6,442.2 C149.47,442.88 151,443.85 152.7,445.3 C154.4,446.75 156.27,449.53 157.8,450.9 C159.33,452.27 160.78,452.83 161.9,453.5 C163.02,454.17 164.5,454.43 164.5,454.9 C164.5,455.37 163.02,455.63 161.9,456.3 C160.78,456.97 159.33,457.53 157.8,458.9 C156.27,460.27 154.4,463.05 152.7,464.5 C151,465.95 149.47,466.92 147.6,467.6 C145.73,468.28 143.55,468.52 141.5,468.6 C139.45,468.68 137.18,467.85 135.3,468.1 C133.42,468.35 131.73,470.02 130.2,470.1 C128.67,470.18 127.37,469.53 126.1,468.6 C124.83,467.67 123.53,466.13 122.6,464.5 C121.67,462.87 120.85,460.4 120.5,458.8 C120.15,457.2 120.5,456.2 120.5,454.9Z" fill="#bebebe" stroke="#333333" stroke-width="1.15" stroke-linejoin="round"/><line x1="120.5" y1="454.9" x2="164.5" y2="454.9" stroke="#333333" stroke-width="1.15"/><rect x="130.2" y="452.35" width="16.4" height="5.1" fill="#fff" stroke="#333333" stroke-width="1.15"/><line x1="138.4" y1="452.35" x2="138.4" y2="457.45" stroke="#333333" stroke-width="1.9"/><path d="M144.8,451.6L151.4,458.2M144.8,458.2L151.4,451.6" stroke="#ff0000" stroke-opacity="0.72" stroke-width="1.6" fill="none"/><path d="M144.4,487.9 C144.4,486.33 143.42,484.62 144.4,483.2 C145.38,481.78 148.15,480.57 150.3,479.4 C152.45,478.23 154.77,477.02 157.3,476.2 C159.83,475.38 162.78,474.78 165.5,474.5 C168.22,474.22 170.68,474.42 173.6,474.5 C176.52,474.58 180.07,474.85 183,475 C185.93,475.15 188.28,475.53 191.2,475.4 C194.12,475.27 197.4,474.53 200.5,474.2 C203.6,473.87 207.12,473.58 209.8,473.4 C212.48,473.22 213.68,472.77 216.6,473.1 C219.52,473.43 223.57,474.68 227.3,475.4 C231.03,476.12 235.12,476.72 239,477.4 C242.88,478.08 247.1,478.67 250.6,479.5 C254.1,480.33 257.07,481.47 260,482.4 C262.93,483.33 265.48,484.38 268.2,485.1 C270.92,485.82 273,486.32 276.3,486.7 C279.6,487.08 285.98,487.2 288,487.4 C290.02,487.6 288.4,487.73 288.4,487.9 C288.4,488.07 290.02,488.2 288,488.4 C285.98,488.6 279.6,488.72 276.3,489.1 C273,489.48 270.92,489.98 268.2,490.7 C265.48,491.42 262.93,492.47 260,493.4 C257.07,494.33 254.1,495.47 250.6,496.3 C247.1,497.13 242.88,497.72 239,498.4 C235.12,499.08 231.03,499.68 227.3,500.4 C223.57,501.12 219.52,502.37 216.6,502.7 C213.68,503.03 212.48,502.58 209.8,502.4 C207.12,502.22 203.6,501.93 200.5,501.6 C197.4,501.27 194.12,500.53 191.2,500.4 C188.28,500.27 185.93,500.65 183,500.8 C180.07,500.95 176.52,501.22 173.6,501.3 C170.68,501.38 168.22,501.58 165.5,501.3 C162.78,501.02 159.83,500.42 157.3,499.6 C154.77,498.78 152.45,497.57 150.3,496.4 C148.15,495.23 145.38,494.02 144.4,492.6 C143.42,491.18 144.4,489.47 144.4,487.9Z" fill="#bebebe" stroke="#333333" stroke-width="1.15" stroke-linejoin="round"/><line x1="144.4" y1="487.9" x2="288.4" y2="487.9" stroke="#333333" stroke-width="1.15"/><rect x="177" y="485.3" width="52.1" height="5.2" fill="#fff" stroke="#333333" stroke-width="1.15"/><line x1="204.2" y1="485.3" x2="204.2" y2="490.5" stroke="#333333" stroke-width="1.9"/><path d="M230.2,484.6L236.8,491.2M230.2,491.2L236.8,484.6" stroke="#ff0000" stroke-opacity="0.72" stroke-width="1.6" fill="none"/><text transform="translate(113.6,505.8) rotate(-90)" font-size="12.9" fill="#6e6e6e">2022</text></g>
<line x1="79.41" y1="572.3" x2="79.41" y2="641.6" stroke="#ebebeb" stroke-width="1"/><line x1="139.42" y1="572.3" x2="139.42" y2="641.6" stroke="#ebebeb" stroke-width="1"/><line x1="199.43" y1="572.3" x2="199.43" y2="641.6" stroke="#ebebeb" stroke-width="1"/><line x1="259.45" y1="572.3" x2="259.45" y2="641.6" stroke="#ebebeb" stroke-width="1"/><line x1="319.46" y1="572.3" x2="319.46" y2="641.6" stroke="#ebebeb" stroke-width="1"/><line x1="49.4" y1="572.3" x2="49.4" y2="641.6" stroke="#ebebeb" stroke-width="1.9"/><line x1="109.41" y1="572.3" x2="109.41" y2="641.6" stroke="#ebebeb" stroke-width="1.9"/><line x1="169.43" y1="572.3" x2="169.43" y2="641.6" stroke="#ebebeb" stroke-width="1.9"/><line x1="229.44" y1="572.3" x2="229.44" y2="641.6" stroke="#ebebeb" stroke-width="1.9"/><line x1="289.45" y1="572.3" x2="289.45" y2="641.6" stroke="#ebebeb" stroke-width="1.9"/><line x1="35.9" y1="591.85" x2="333.2" y2="591.85" stroke="#ebebeb" stroke-width="1.9"/><line x1="35.9" y1="623.9" x2="333.2" y2="623.9" stroke="#ebebeb" stroke-width="1.9"/><text x="35.9" y="555.3" font-size="16.2" fill="#111">Solar photovoltaics (GW)</text><text transform="translate(28.7,596.45) scale(1,1.07)" font-size="12.7" fill="#4d4d4d" text-anchor="end">2030</text><text transform="translate(28.7,628.5) scale(1,1.07)" font-size="12.7" fill="#4d4d4d" text-anchor="end">2040</text><text transform="translate(49.4,659.8) scale(1,1.07)" font-size="12.7" fill="#4d4d4d" text-anchor="middle">0</text><text transform="translate(109.41,659.8) scale(1,1.07)" font-size="12.7" fill="#4d4d4d" text-anchor="middle">500</text><text transform="translate(169.43,659.8) scale(1,1.07)" font-size="12.7" fill="#4d4d4d" text-anchor="middle">1000</text><text transform="translate(229.44,659.8) scale(1,1.07)" font-size="12.7" fill="#4d4d4d" text-anchor="middle">1500</text><text transform="translate(289.45,659.8) scale(1,1.07)" font-size="12.7" fill="#4d4d4d" text-anchor="middle">2000</text><line x1="74.7" y1="641.6" x2="74.7" y2="572.3" stroke="#727272" stroke-width="1.85" stroke-dasharray="9.1 9.3"/><line x1="121.1" y1="575.65" x2="121.1" y2="608.35" stroke="#777" stroke-width="1.9" stroke-dasharray="1.9 7.5"/><path d="M113.6,591.85 C113.6,591.32 115.95,590.88 117.3,590.25 C118.65,589.62 120.48,588.93 121.7,588.05 C122.92,587.17 123.52,586.28 124.6,584.95 C125.68,583.62 126.87,581.33 128.2,580.05 C129.53,578.77 131.25,577.55 132.6,577.25 C133.95,576.95 134.95,577.18 136.3,578.25 C137.65,579.32 139.42,582.27 140.7,583.65 C141.98,585.03 142.78,586.9 144,586.55 C145.22,586.2 146.48,583.13 148,581.55 C149.52,579.97 151.67,577.3 153.1,577.05 C154.53,576.8 155.52,578.72 156.6,580.05 C157.68,581.38 159.07,583.08 159.6,585.05 C160.13,587.02 159.8,589.58 159.8,591.85 C159.8,594.12 160.13,596.68 159.6,598.65 C159.07,600.62 157.68,602.32 156.6,603.65 C155.52,604.98 154.53,606.9 153.1,606.65 C151.67,606.4 149.52,603.73 148,602.15 C146.48,600.57 145.22,597.5 144,597.15 C142.78,596.8 141.98,598.67 140.7,600.05 C139.42,601.43 137.65,604.38 136.3,605.45 C134.95,606.52 133.95,606.75 132.6,606.45 C131.25,606.15 129.53,604.93 128.2,603.65 C126.87,602.37 125.68,600.08 124.6,598.75 C123.52,597.42 122.92,596.53 121.7,595.65 C120.48,594.77 118.65,594.08 117.3,593.45 C115.95,592.82 113.6,592.38 113.6,591.85Z" fill="#bebebe" stroke="#333333" stroke-width="1.15" stroke-linejoin="round"/><line x1="113.6" y1="591.85" x2="159.8" y2="591.85" stroke="#333333" stroke-width="1.15"/><rect x="130.8" y="589.3" width="21.5" height="5.1" fill="#fff" stroke="#333333" stroke-width="1.15"/><line x1="138.8" y1="589.3" x2="138.8" y2="594.4" stroke="#333333" stroke-width="1.9"/><path d="M152.8,588.55L159.4,595.15M152.8,595.15L159.4,588.55" stroke="#ff0000" stroke-opacity="0.72" stroke-width="1.6" fill="none"/><path d="M149.6,623.9 C149.6,623.33 148.5,622.58 149.6,622.2 C150.7,621.82 153.4,621.82 156.2,621.6 C159,621.38 163.33,621.2 166.4,620.9 C169.47,620.6 172.22,620.32 174.6,619.8 C176.98,619.28 178.32,618.9 180.7,617.8 C183.08,616.7 186.33,614.48 188.9,613.2 C191.47,611.92 193.72,610.78 196.1,610.1 C198.48,609.42 200.65,609.13 203.2,609.1 C205.75,609.07 208.85,609.4 211.4,609.9 C213.95,610.4 216.07,611.55 218.5,612.1 C220.93,612.65 223.48,613.25 226,613.2 C228.52,613.15 230.72,612.25 233.6,611.8 C236.48,611.35 240.42,610.45 243.3,610.5 C246.18,610.55 248.02,611.2 250.9,612.1 C253.78,613 257.18,614.82 260.6,615.9 C264.02,616.98 267.98,617.8 271.4,618.6 C274.82,619.4 279.38,619.82 281.1,620.7 C282.82,621.58 281.7,622.83 281.7,623.9 C281.7,624.97 282.82,626.22 281.1,627.1 C279.38,627.98 274.82,628.4 271.4,629.2 C267.98,630 264.02,630.82 260.6,631.9 C257.18,632.98 253.78,634.8 250.9,635.7 C248.02,636.6 246.18,637.25 243.3,637.3 C240.42,637.35 236.48,636.45 233.6,636 C230.72,635.55 228.52,634.65 226,634.6 C223.48,634.55 220.93,635.15 218.5,635.7 C216.07,636.25 213.95,637.4 211.4,637.9 C208.85,638.4 205.75,638.73 203.2,638.7 C200.65,638.67 198.48,638.38 196.1,637.7 C193.72,637.02 191.47,635.88 188.9,634.6 C186.33,633.32 183.08,631.1 180.7,630 C178.32,628.9 176.98,628.52 174.6,628 C172.22,627.48 169.47,627.2 166.4,626.9 C163.33,626.6 159,626.42 156.2,626.2 C153.4,625.98 150.7,625.98 149.6,625.6 C148.5,625.22 149.6,624.47 149.6,623.9Z" fill="#bebebe" stroke="#333333" stroke-width="1.15" stroke-linejoin="round"/><line x1="149.6" y1="623.9" x2="281.7" y2="623.9" stroke="#333333" stroke-width="1.15"/><rect x="199.4" y="621.35" width="47.2" height="5.1" fill="#fff" stroke="#333333" stroke-width="1.15"/><line x1="218.1" y1="621.35" x2="218.1" y2="626.45" stroke="#333333" stroke-width="1.9"/><path d="M253.8,620.6L260.4,627.2M253.8,627.2L260.4,620.6" stroke="#ff0000" stroke-opacity="0.72" stroke-width="1.6" fill="none"/><text transform="translate(69.7,641.4) rotate(-90)" font-size="12.9" fill="#6e6e6e">2022</text><text transform="translate(117.1,641.4) rotate(-90)" font-size="12.9" fill="#6e6e6e">REPowerEU</text>
<line x1="428.81" y1="572.3" x2="428.81" y2="641.6" stroke="#ebebeb" stroke-width="1"/><line x1="488.82" y1="572.3" x2="488.82" y2="641.6" stroke="#ebebeb" stroke-width="1"/><line x1="548.83" y1="572.3" x2="548.83" y2="641.6" stroke="#ebebeb" stroke-width="1"/><line x1="608.85" y1="572.3" x2="608.85" y2="641.6" stroke="#ebebeb" stroke-width="1"/><line x1="668.86" y1="572.3" x2="668.86" y2="641.6" stroke="#ebebeb" stroke-width="1"/><line x1="398.8" y1="572.3" x2="398.8" y2="641.6" stroke="#ebebeb" stroke-width="1.9"/><line x1="458.81" y1="572.3" x2="458.81" y2="641.6" stroke="#ebebeb" stroke-width="1.9"/><line x1="518.83" y1="572.3" x2="518.83" y2="641.6" stroke="#ebebeb" stroke-width="1.9"/><line x1="578.84" y1="572.3" x2="578.84" y2="641.6" stroke="#ebebeb" stroke-width="1.9"/><line x1="638.85" y1="572.3" x2="638.85" y2="641.6" stroke="#ebebeb" stroke-width="1.9"/><line x1="385.3" y1="590.5" x2="682.6" y2="590.5" stroke="#ebebeb" stroke-width="1.9"/><line x1="385.3" y1="623.7" x2="682.6" y2="623.7" stroke="#ebebeb" stroke-width="1.9"/><text x="385.3" y="555.3" font-size="16.2" fill="#111">Residual Fossil Emissions (Mt CO2/yr)</text><text transform="translate(378.1,595.1) scale(1,1.07)" font-size="12.7" fill="#4d4d4d" text-anchor="end">2030</text><text transform="translate(378.1,628.3) scale(1,1.07)" font-size="12.7" fill="#4d4d4d" text-anchor="end">2040</text><text transform="translate(398.8,659.8) scale(1,1.07)" font-size="12.7" fill="#4d4d4d" text-anchor="middle">0</text><text transform="translate(458.81,659.8) scale(1,1.07)" font-size="12.7" fill="#4d4d4d" text-anchor="middle">500</text><text transform="translate(518.83,659.8) scale(1,1.07)" font-size="12.7" fill="#4d4d4d" text-anchor="middle">1000</text><text transform="translate(578.84,659.8) scale(1,1.07)" font-size="12.7" fill="#4d4d4d" text-anchor="middle">1500</text><text transform="translate(638.85,659.8) scale(1,1.07)" font-size="12.7" fill="#4d4d4d" text-anchor="middle">2000</text><g transform="translate(349.4,0)"><path d="M255.9,590.5 C255.9,588.93 255.57,587.2 255.9,585.8 C256.23,584.4 256.97,582.98 257.9,582.1 C258.83,581.22 260.28,580.5 261.5,580.5 C262.72,580.5 263.98,581.65 265.2,582.1 C266.42,582.55 267.58,583.87 268.8,583.2 C270.02,582.53 271.4,579.43 272.5,578.1 C273.6,576.77 274.43,575.2 275.4,575.2 C276.37,575.2 277.32,577 278.3,578.1 C279.28,579.2 280.08,581.32 281.3,581.8 C282.52,582.28 284.03,580.83 285.6,581 C287.17,581.17 289.42,581.88 290.7,582.8 C291.98,583.72 292.83,585.22 293.3,586.5 C293.77,587.78 293.5,589.17 293.5,590.5 C293.5,591.83 293.77,593.22 293.3,594.5 C292.83,595.78 291.98,597.28 290.7,598.2 C289.42,599.12 287.17,599.83 285.6,600 C284.03,600.17 282.52,598.72 281.3,599.2 C280.08,599.68 279.28,601.8 278.3,602.9 C277.32,604 276.37,605.8 275.4,605.8 C274.43,605.8 273.6,604.23 272.5,602.9 C271.4,601.57 270.02,598.47 268.8,597.8 C267.58,597.13 266.42,598.45 265.2,598.9 C263.98,599.35 262.72,600.5 261.5,600.5 C260.28,600.5 258.83,599.78 257.9,598.9 C256.97,598.02 256.23,596.6 255.9,595.2 C255.57,593.8 255.9,592.07 255.9,590.5Z" fill="#bebebe" stroke="#333333" stroke-width="1.15" stroke-linejoin="round"/><line x1="255.9" y1="590.5" x2="293.5" y2="590.5" stroke="#333333" stroke-width="1.15"/><rect x="265.9" y="587.95" width="17.5" height="5.1" fill="#fff" stroke="#333333" stroke-width="1.15"/><line x1="275.4" y1="587.95" x2="275.4" y2="593.05" stroke="#333333" stroke-width="1.9"/><path d="M282.3,587.2L288.9,593.8M282.3,593.8L288.9,587.2" stroke="#ff0000" stroke-opacity="0.72" stroke-width="1.6" fill="none"/><path d="M112.6,623.7 C112.6,623.2 116.45,623.03 118.4,622.2 C120.35,621.37 122.53,620.17 124.3,618.7 C126.07,617.23 127.45,614.92 129,613.4 C130.55,611.88 132.05,610.43 133.6,609.6 C135.15,608.77 136.55,608.45 138.3,608.4 C140.05,608.35 141.97,608.63 144.1,609.3 C146.23,609.97 148.57,611.57 151.1,612.4 C153.63,613.23 156.57,613.65 159.3,614.3 C162.03,614.95 164.97,615.47 167.5,616.3 C170.03,617.13 172.37,618.32 174.5,619.3 C176.63,620.28 178.4,621.47 180.3,622.2 C182.2,622.93 185.9,623.2 185.9,623.7 C185.9,624.2 182.2,624.47 180.3,625.2 C178.4,625.93 176.63,627.12 174.5,628.1 C172.37,629.08 170.03,630.27 167.5,631.1 C164.97,631.93 162.03,632.45 159.3,633.1 C156.57,633.75 153.63,634.17 151.1,635 C148.57,635.83 146.23,637.43 144.1,638.1 C141.97,638.77 140.05,639.05 138.3,639 C136.55,638.95 135.15,638.63 133.6,637.8 C132.05,636.97 130.55,635.52 129,634 C127.45,632.48 126.07,630.17 124.3,628.7 C122.53,627.23 120.35,626.03 118.4,625.2 C116.45,624.37 112.6,624.2 112.6,623.7Z" fill="#bebebe" stroke="#333333" stroke-width="1.15" stroke-linejoin="round"/><line x1="112.6" y1="623.7" x2="185.9" y2="623.7" stroke="#333333" stroke-width="1.15"/><rect x="136.2" y="621.1" width="21.6" height="5.2" fill="#fff" stroke="#333333" stroke-width="1.15"/><line x1="145.3" y1="621.1" x2="145.3" y2="626.3" stroke="#333333" stroke-width="1.9"/><path d="M158.1,620.4L164.7,627M158.1,627L164.7,620.4" stroke="#ff0000" stroke-opacity="0.72" stroke-width="1.6" fill="none"/></g>
<line x1="94.45" y1="708" x2="94.45" y2="777.4" stroke="#ebebeb" stroke-width="1"/><line x1="184.55" y1="708" x2="184.55" y2="777.4" stroke="#ebebeb" stroke-width="1"/><line x1="274.65" y1="708" x2="274.65" y2="777.4" stroke="#ebebeb" stroke-width="1"/><line x1="49.4" y1="708" x2="49.4" y2="777.4" stroke="#ebebeb" stroke-width="1.9"/><line x1="139.5" y1="708" x2="139.5" y2="777.4" stroke="#ebebeb" stroke-width="1.9"/><line x1="229.6" y1="708" x2="229.6" y2="777.4" stroke="#ebebeb" stroke-width="1.9"/><line x1="319.7" y1="708" x2="319.7" y2="777.4" stroke="#ebebeb" stroke-width="1.9"/><line x1="35.9" y1="727.5" x2="333.2" y2="727.5" stroke="#ebebeb" stroke-width="1.9"/><line x1="35.9" y1="759.8" x2="333.2" y2="759.8" stroke="#ebebeb" stroke-width="1.9"/><text x="35.9" y="691" font-size="16.2" fill="#111">Carbon Capture and Storage (Mt CO2/yr)</text><text transform="translate(28.7,732.1) scale(1,1.07)" font-size="12.7" fill="#4d4d4d" text-anchor="end">2030</text><text transform="translate(28.7,764.4) scale(1,1.07)" font-size="12.7" fill="#4d4d4d" text-anchor="end">2040</text><text transform="translate(49.4,795.6) scale(1,1.07)" font-size="12.7" fill="#4d4d4d" text-anchor="middle">0</text><text transform="translate(139.5,795.6) scale(1,1.07)" font-size="12.7" fill="#4d4d4d" text-anchor="middle">100</text><text transform="translate(229.6,795.6) scale(1,1.07)" font-size="12.7" fill="#4d4d4d" text-anchor="middle">200</text><text transform="translate(319.7,795.6) scale(1,1.07)" font-size="12.7" fill="#4d4d4d" text-anchor="middle">300</text><line x1="94.6" y1="711.3" x2="94.6" y2="744" stroke="#777" stroke-width="1.9" stroke-dasharray="1.9 7.5"/><path d="M56.2,727.5 C56.2,727.03 56.2,726.37 56.5,726.1 C56.8,725.83 57.42,725.9 58,725.9 C58.58,725.9 59.5,726.07 60,726.1 C60.5,726.13 60.72,726.33 61,726.1 C61.28,725.87 61.37,725.1 61.7,724.7 C62.03,724.3 62.65,724 63,723.7 C63.35,723.4 63.58,723.52 63.8,722.9 C64.02,722.28 64.1,721.23 64.3,720 C64.5,718.77 64.78,716.7 65,715.5 C65.22,714.3 65.4,713.25 65.6,712.8 C65.8,712.35 66.03,712.02 66.2,712.8 C66.37,713.58 66.5,715.72 66.6,717.5 C66.7,719.28 66.77,721.83 66.8,723.5 C66.83,725.17 66.8,726.17 66.8,727.5 C66.8,728.83 66.83,729.83 66.8,731.5 C66.77,733.17 66.7,735.72 66.6,737.5 C66.5,739.28 66.37,741.42 66.2,742.2 C66.03,742.98 65.8,742.65 65.6,742.2 C65.4,741.75 65.22,740.7 65,739.5 C64.78,738.3 64.5,736.23 64.3,735 C64.1,733.77 64.02,732.72 63.8,732.1 C63.58,731.48 63.35,731.6 63,731.3 C62.65,731 62.03,730.7 61.7,730.3 C61.37,729.9 61.28,729.13 61,728.9 C60.72,728.67 60.5,728.87 60,728.9 C59.5,728.93 58.58,729.1 58,729.1 C57.42,729.1 56.8,729.17 56.5,728.9 C56.2,728.63 56.2,727.97 56.2,727.5Z" fill="#bebebe" stroke="#333333" stroke-width="1.15" stroke-linejoin="round"/><line x1="56.2" y1="727.5" x2="66.8" y2="727.5" stroke="#333333" stroke-width="1.15"/><rect x="61.2" y="725.9" width="3.2" height="3.2" fill="#fff" stroke="#333333" stroke-width="1.15"/><line x1="63" y1="725.9" x2="63" y2="729.1" stroke="#333333" stroke-width="1.9"/><path d="M62.4,724.2L69,730.8M62.4,730.8L69,724.2" stroke="#ff0000" stroke-opacity="0.72" stroke-width="1.6" fill="none"/><path d="M100,759.8 C100,758.67 98.65,757.33 100,756.4 C101.35,755.47 104.55,755 108.1,754.2 C111.65,753.4 116.92,752.55 121.3,751.6 C125.68,750.65 130.47,749.38 134.4,748.5 C138.33,747.62 141.62,746.83 144.9,746.3 C148.18,745.77 150.37,745.43 154.1,745.3 C157.83,745.17 163.13,745.28 167.3,745.5 C171.47,745.72 175.63,746.25 179.1,746.6 C182.57,746.95 184.4,747.07 188.1,747.6 C191.8,748.13 196.92,749.07 201.3,749.8 C205.68,750.53 210.02,751.33 214.4,752 C218.78,752.67 223.22,753.23 227.6,753.8 C231.98,754.37 236.33,754.93 240.7,755.4 C245.07,755.87 249.75,756.25 253.8,756.6 C257.85,756.95 261.47,757.27 265,757.5 C268.53,757.73 272.3,757.88 275,758 C277.7,758.12 280.1,757.9 281.2,758.2 C282.3,758.5 281.6,759.27 281.6,759.8 C281.6,760.33 282.3,761.1 281.2,761.4 C280.1,761.7 277.7,761.48 275,761.6 C272.3,761.72 268.53,761.87 265,762.1 C261.47,762.33 257.85,762.65 253.8,763 C249.75,763.35 245.07,763.73 240.7,764.2 C236.33,764.67 231.98,765.23 227.6,765.8 C223.22,766.37 218.78,766.93 214.4,767.6 C210.02,768.27 205.68,769.07 201.3,769.8 C196.92,770.53 191.8,771.47 188.1,772 C184.4,772.53 182.57,772.65 179.1,773 C175.63,773.35 171.47,773.88 167.3,774.1 C163.13,774.32 157.83,774.43 154.1,774.3 C150.37,774.17 148.18,773.83 144.9,773.3 C141.62,772.77 138.33,771.98 134.4,771.1 C130.47,770.22 125.68,768.95 121.3,768 C116.92,767.05 111.65,766.2 108.1,765.4 C104.55,764.6 101.35,764.13 100,763.2 C98.65,762.27 100,760.93 100,759.8Z" fill="#bebebe" stroke="#333333" stroke-width="1.15" stroke-linejoin="round"/><line x1="100" y1="759.8" x2="281.6" y2="759.8" stroke="#333333" stroke-width="1.15"/><rect x="150.8" y="757.3" width="57.7" height="5" fill="#fff" stroke="#333333" stroke-width="1.15"/><line x1="176.4" y1="757.3" x2="176.4" y2="762.3" stroke="#333333" stroke-width="1.9"/><path d="M215.5,756.5L222.1,763.1M215.5,763.1L222.1,756.5" stroke="#ff0000" stroke-opacity="0.72" stroke-width="1.6" fill="none"/><text transform="translate(90.1,758.6) rotate(-90)" font-size="12.9" fill="#6e6e6e">Net-Zero</text><text transform="translate(108.6,775.4) rotate(-90)" font-size="12.9" fill="#6e6e6e">Industry Act</text>
<line x1="443.85" y1="708" x2="443.85" y2="777.4" stroke="#ebebeb" stroke-width="1"/><line x1="533.95" y1="708" x2="533.95" y2="777.4" stroke="#ebebeb" stroke-width="1"/><line x1="624.05" y1="708" x2="624.05" y2="777.4" stroke="#ebebeb" stroke-width="1"/><line x1="398.8" y1="708" x2="398.8" y2="777.4" stroke="#ebebeb" stroke-width="1.9"/><line x1="488.9" y1="708" x2="488.9" y2="777.4" stroke="#ebebeb" stroke-width="1.9"/><line x1="579" y1="708" x2="579" y2="777.4" stroke="#ebebeb" stroke-width="1.9"/><line x1="669.1" y1="708" x2="669.1" y2="777.4" stroke="#ebebeb" stroke-width="1.9"/><line x1="385.3" y1="726.1" x2="682.6" y2="726.1" stroke="#ebebeb" stroke-width="1.9"/><line x1="385.3" y1="759.4" x2="682.6" y2="759.4" stroke="#ebebeb" stroke-width="1.9"/><text x="385.3" y="691" font-size="16.2" fill="#111">BECCS and DACCS (Mt CO2/yr)</text><text transform="translate(378.1,730.7) scale(1,1.07)" font-size="12.7" fill="#4d4d4d" text-anchor="end">2030</text><text transform="translate(378.1,764) scale(1,1.07)" font-size="12.7" fill="#4d4d4d" text-anchor="end">2040</text><text transform="translate(398.8,795.6) scale(1,1.07)" font-size="12.7" fill="#4d4d4d" text-anchor="middle">0</text><text transform="translate(488.9,795.6) scale(1,1.07)" font-size="12.7" fill="#4d4d4d" text-anchor="middle">100</text><text transform="translate(579,795.6) scale(1,1.07)" font-size="12.7" fill="#4d4d4d" text-anchor="middle">200</text><text transform="translate(669.1,795.6) scale(1,1.07)" font-size="12.7" fill="#4d4d4d" text-anchor="middle">300</text><g transform="translate(349.4,0)"><path d="M52.8,726.1 C52.8,725.33 52.77,724.52 53,723.8 C53.23,723.08 53.8,723 54.2,721.8 C54.6,720.6 54.92,718.35 55.4,716.6 C55.88,714.85 56.53,711.53 57.1,711.3 C57.67,711.07 58.37,713.85 58.8,715.2 C59.23,716.55 59.27,718.53 59.7,719.4 C60.13,720.27 60.97,719.77 61.4,720.4 C61.83,721.03 62.1,722.25 62.3,723.2 C62.5,724.15 62.6,725.13 62.6,726.1 C62.6,727.07 62.5,728.05 62.3,729 C62.1,729.95 61.83,731.17 61.4,731.8 C60.97,732.43 60.13,731.93 59.7,732.8 C59.27,733.67 59.23,735.65 58.8,737 C58.37,738.35 57.67,741.13 57.1,740.9 C56.53,740.67 55.88,737.35 55.4,735.6 C54.92,733.85 54.6,731.6 54.2,730.4 C53.8,729.2 53.23,729.12 53,728.4 C52.77,727.68 52.8,726.87 52.8,726.1Z" fill="#bebebe" stroke="#333333" stroke-width="1.15" stroke-linejoin="round"/><line x1="52.8" y1="726.1" x2="62.6" y2="726.1" stroke="#333333" stroke-width="1.15"/><rect x="56.2" y="724.1" width="2" height="4" fill="#fff" stroke="#333333" stroke-width="1.15"/><line x1="57.2" y1="724.1" x2="57.2" y2="728.1" stroke="#333333" stroke-width="1.9"/><path d="M57.9,722.8L64.5,729.4M57.9,729.4L64.5,722.8" stroke="#ff0000" stroke-opacity="0.72" stroke-width="1.6" fill="none"/><path d="M88.7,759.4 C88.7,758.1 87.87,756.55 88.7,755.5 C89.53,754.45 91.12,753.93 93.7,753.1 C96.28,752.27 100.68,751.33 104.2,750.5 C107.72,749.67 111.5,748.93 114.8,748.1 C118.1,747.27 121.38,746.08 124,745.5 C126.62,744.92 128.32,744.63 130.5,744.6 C132.68,744.57 134.68,744.72 137.1,745.3 C139.52,745.88 142.15,747.12 145,748.1 C147.85,749.08 151.12,750.58 154.2,751.2 C157.28,751.82 160.63,751.58 163.5,751.8 C166.37,752.02 168.33,752.07 171.4,752.5 C174.47,752.93 177.97,753.75 181.9,754.4 C185.83,755.05 190.62,755.78 195,756.4 C199.38,757.02 203.82,757.65 208.2,758.1 C212.58,758.55 219.07,758.88 221.3,759.1 C223.53,759.32 221.6,759.3 221.6,759.4 C221.6,759.5 223.53,759.48 221.3,759.7 C219.07,759.92 212.58,760.25 208.2,760.7 C203.82,761.15 199.38,761.78 195,762.4 C190.62,763.02 185.83,763.75 181.9,764.4 C177.97,765.05 174.47,765.87 171.4,766.3 C168.33,766.73 166.37,766.78 163.5,767 C160.63,767.22 157.28,766.98 154.2,767.6 C151.12,768.22 147.85,769.72 145,770.7 C142.15,771.68 139.52,772.92 137.1,773.5 C134.68,774.08 132.68,774.23 130.5,774.2 C128.32,774.17 126.62,773.88 124,773.3 C121.38,772.72 118.1,771.53 114.8,770.7 C111.5,769.87 107.72,769.13 104.2,768.3 C100.68,767.47 96.28,766.53 93.7,765.7 C91.12,764.87 89.53,764.35 88.7,763.3 C87.87,762.25 88.7,760.7 88.7,759.4Z" fill="#bebebe" stroke="#333333" stroke-width="1.15" stroke-linejoin="round"/><line x1="88.7" y1="759.4" x2="221.6" y2="759.4" stroke="#333333" stroke-width="1.15"/><rect x="118" y="756.7" width="42.1" height="5.4" fill="#fff" stroke="#333333" stroke-width="1.15"/><line x1="134.7" y1="756.7" x2="134.7" y2="762.1" stroke="#333333" stroke-width="1.9"/><path d="M164.1,756.1L170.7,762.7M164.1,762.7L170.7,756.1" stroke="#ff0000" stroke-opacity="0.72" stroke-width="1.6" fill="none"/></g>
</svg></body></html>
